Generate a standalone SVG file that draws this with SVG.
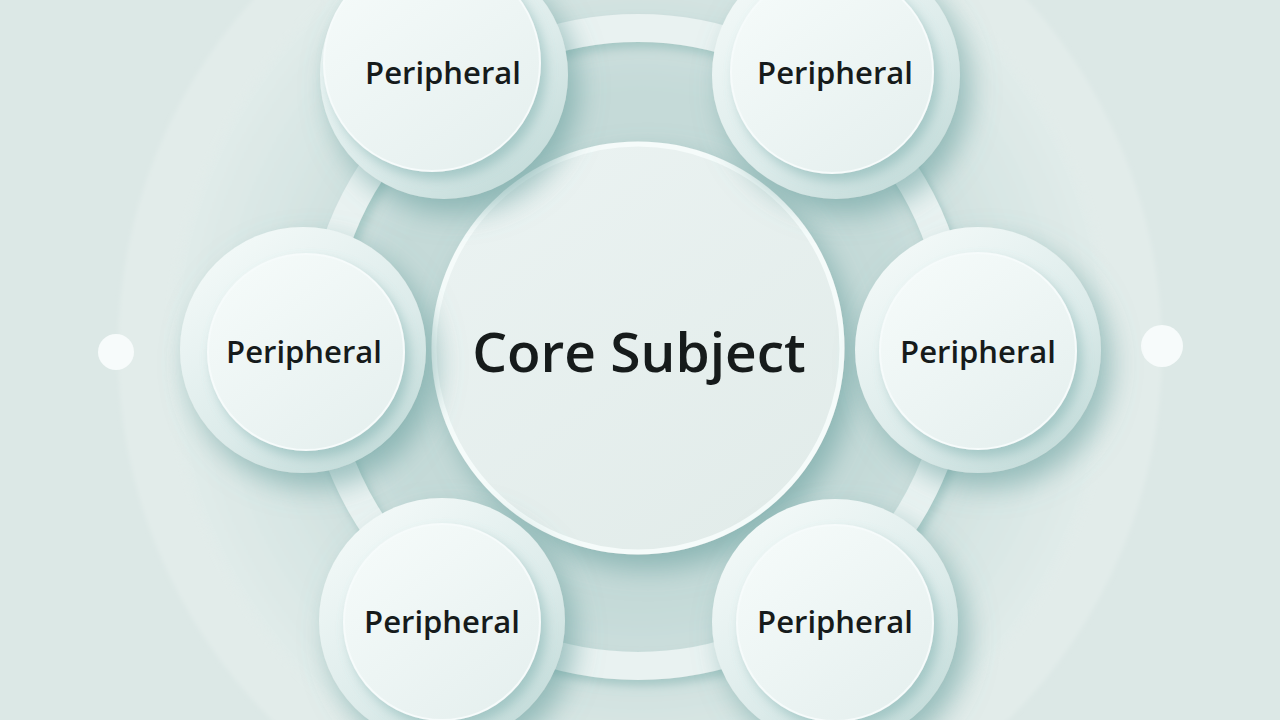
<svg xmlns="http://www.w3.org/2000/svg" width="1280" height="720" viewBox="0 0 1280 720">
<defs>
  <radialGradient id="halo" cx="50%" cy="50%" r="50%">
    <stop offset="0.55" stop-color="#b9d3d1"/>
    <stop offset="0.8" stop-color="#d2e3e1"/>
    <stop offset="1" stop-color="#e1ecea"/>
  </radialGradient>
  <linearGradient id="backDisc" x1="0.2" y1="0.1" x2="0.8" y2="0.95">
    <stop offset="0" stop-color="#f1f8f7"/>
    <stop offset="0.6" stop-color="#dcebea"/>
    <stop offset="1" stop-color="#c4dcda"/>
  </linearGradient>
  <linearGradient id="frontDisc" x1="0.2" y1="0.1" x2="0.8" y2="0.95">
    <stop offset="0" stop-color="#f4faf9"/>
    <stop offset="1" stop-color="#e6f0ef"/>
  </linearGradient>
  <linearGradient id="coreFill" x1="0.2" y1="0.1" x2="0.8" y2="0.95">
    <stop offset="0" stop-color="#eaf2f1"/>
    <stop offset="1" stop-color="#e2ecea"/>
  </linearGradient>
  <filter id="shadowBig" x="-40%" y="-40%" width="180%" height="180%">
    <feDropShadow dx="10" dy="14" stdDeviation="14" flood-color="#5d9997" flood-opacity="0.55"/>
  </filter>
  <filter id="shadowSmall" x="-30%" y="-30%" width="160%" height="160%">
    <feDropShadow dx="5" dy="7" stdDeviation="6" flood-color="#6ea6a4" flood-opacity="0.45"/>
  </filter>
  <filter id="shadowRing" x="-20%" y="-20%" width="140%" height="140%">
    <feDropShadow dx="4" dy="6" stdDeviation="5" flood-color="#7fb0ae" flood-opacity="0.5"/>
  </filter>
  <filter id="soft" x="-20%" y="-20%" width="140%" height="140%">
    <feGaussianBlur stdDeviation="3"/>
  </filter>
  <filter id="edge" x="-10%" y="-10%" width="120%" height="120%">
    <feGaussianBlur stdDeviation="2"/>
  </filter>
</defs>
<style>
  .back { fill: url(#backDisc); filter: url(#shadowBig); }
  .front { fill: url(#frontDisc); stroke: #f6fbfb; stroke-width: 2; filter: url(#shadowSmall); }
  .label { font-family: "Open Sans", "Noto Sans", "Liberation Sans", sans-serif; font-weight: 600; fill: #161b1b; text-anchor: middle; }
  .plabel { font-size: 31px; }
  .clabel { font-size: 55px; }
  .dot { fill: #f7fbfb; }
</style>

<!-- background -->
<rect width="1280" height="720" fill="#dce8e6"/>
<circle cx="640" cy="350" r="522" fill="#e2ecea" filter="url(#edge)"/>
<circle cx="640" cy="350" r="470" fill="url(#halo)" opacity="0.7" filter="url(#soft)"/>
<circle class="dot" cx="116" cy="352" r="18"/>
<circle class="dot" cx="1162" cy="346" r="21"/>

<!-- connectors: the ring track -->
<g id="connectors">
  <circle cx="638" cy="347" r="319" fill="none" stroke="#e9f2f1" stroke-width="28" filter="url(#shadowRing)"/>
</g>

<!-- core -->
<g id="core">
  <circle cx="638" cy="348" r="204" fill="url(#coreFill)" stroke="#f5fbfa" stroke-width="5" filter="url(#shadowBig)"/>
  <text class="label clabel" x="639" y="372">Core Subject</text>
</g>

<!-- peripherals -->
<g id="peripheral-top-left">
  <circle class="back" cx="444" cy="75" r="124"/>
  <circle class="front" cx="432" cy="63" r="108"/>
  <text class="label plabel" x="443" y="84">Peripheral</text>
</g>
<g id="peripheral-top-right">
  <circle class="back" cx="836" cy="75" r="124"/>
  <circle class="front" cx="832" cy="72" r="101"/>
  <text class="label plabel" x="835" y="84">Peripheral</text>
</g>
<g id="peripheral-left">
  <circle class="back" cx="303" cy="350" r="123"/>
  <circle class="front" cx="306" cy="352" r="98"/>
  <text class="label plabel" x="304" y="363">Peripheral</text>
</g>
<g id="peripheral-right">
  <circle class="back" cx="978" cy="350" r="123"/>
  <circle class="front" cx="978" cy="351" r="98"/>
  <text class="label plabel" x="978" y="363">Peripheral</text>
</g>
<g id="peripheral-bottom-left">
  <circle class="back" cx="442" cy="621" r="123"/>
  <circle class="front" cx="442" cy="622" r="98"/>
  <text class="label plabel" x="442" y="633">Peripheral</text>
</g>
<g id="peripheral-bottom-right">
  <circle class="back" cx="835" cy="622" r="123"/>
  <circle class="front" cx="835" cy="623" r="98"/>
  <text class="label plabel" x="835" y="633">Peripheral</text>
</g>
</svg>
